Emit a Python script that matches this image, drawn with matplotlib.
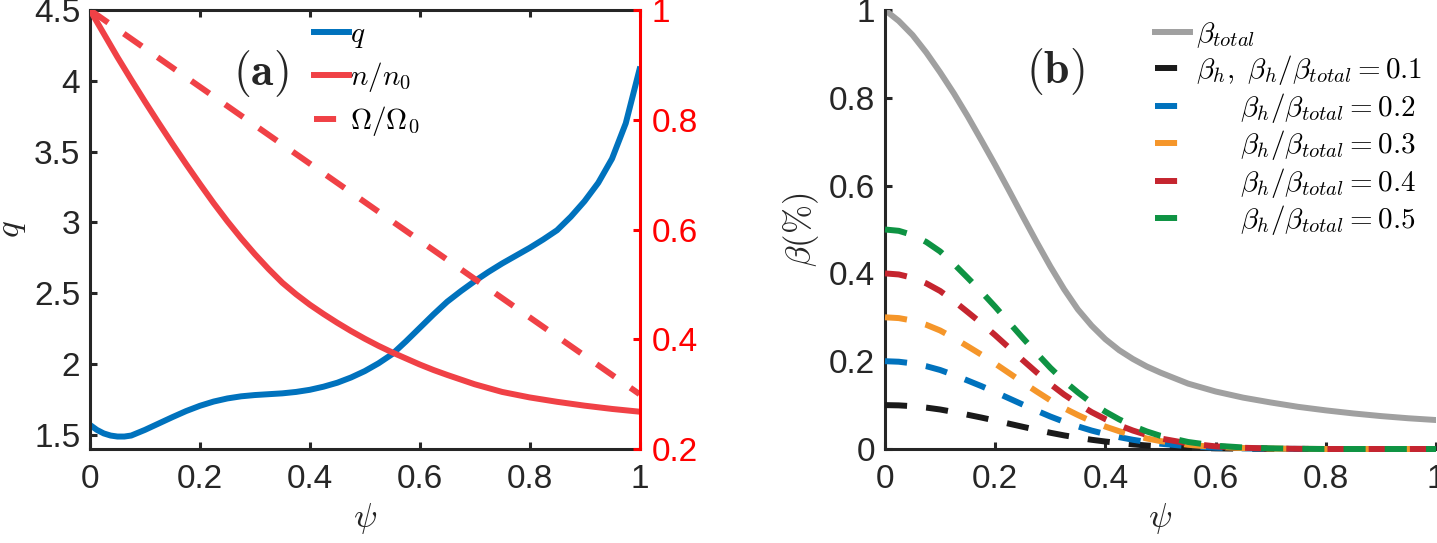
import numpy as np
import matplotlib
matplotlib.use("Agg")
import matplotlib.pyplot as plt

# ---- panel (a): q, n/n0, Omega/Omega0 vs psi ----
psi_q = [0, 0.0125, 0.025, 0.0375, 0.05, 0.0625, 0.075, 0.1, 0.125, 0.15, 0.175, 0.2, 0.225,
         0.25, 0.275, 0.3, 0.325, 0.35, 0.375, 0.4, 0.425, 0.45, 0.475, 0.5, 0.525, 0.55,
         0.575, 0.6, 0.625, 0.65, 0.675, 0.7, 0.725, 0.75, 0.775, 0.8, 0.825, 0.85, 0.875,
         0.9, 0.925, 0.95, 0.975, 1.0]
q_vals = [1.57, 1.535, 1.51, 1.495, 1.488, 1.488, 1.495, 1.535, 1.58, 1.625, 1.668, 1.705, 1.735,
          1.757, 1.772, 1.781, 1.787, 1.793, 1.803, 1.818, 1.84, 1.868, 1.905, 1.95, 2.005, 2.07,
          2.16, 2.255, 2.35, 2.44, 2.515, 2.585, 2.65, 2.71, 2.765, 2.82, 2.88, 2.945, 3.04,
          3.15, 3.28, 3.45, 3.70, 4.08]

psi_n = [0, 0.025, 0.05, 0.075, 0.1, 0.125, 0.15, 0.175, 0.2, 0.225, 0.25, 0.275, 0.3, 0.325,
         0.35, 0.375, 0.4, 0.425, 0.45, 0.475, 0.5, 0.525, 0.55, 0.575, 0.6, 0.625, 0.65, 0.7,
         0.75, 0.8, 0.85, 0.9, 0.95, 1.0]
n_vals = [1.0, 0.957, 0.914, 0.873, 0.833, 0.794, 0.756, 0.719, 0.683, 0.648, 0.615, 0.584,
          0.555, 0.528, 0.503, 0.482, 0.463, 0.446, 0.43, 0.415, 0.401, 0.388, 0.376, 0.365,
          0.354, 0.344, 0.335, 0.318, 0.304, 0.294, 0.286, 0.279, 0.273, 0.268]

psi_om = [0, 0.25, 0.5, 0.75, 1.0]
om_vals = [1.0, 0.825, 0.65, 0.475, 0.30]

# ---- panel (b): beta profiles ----
psi_tot = [0, 0.025, 0.05, 0.075, 0.1, 0.125, 0.15, 0.175, 0.2, 0.225, 0.25, 0.275, 0.3, 0.325,
           0.35, 0.375, 0.4, 0.425, 0.45, 0.475, 0.5, 0.55, 0.6, 0.65, 0.7, 0.75, 0.8, 0.85,
           0.9, 0.95, 1.0]
beta_total = [1.0, 0.975, 0.943, 0.903, 0.858, 0.81, 0.758, 0.703, 0.647, 0.589, 0.53, 0.472,
              0.416, 0.364, 0.318, 0.281, 0.250, 0.225, 0.205, 0.188, 0.174, 0.149, 0.131, 0.117,
              0.106, 0.096, 0.088, 0.081, 0.075, 0.070, 0.066]

psi_h = [0, 0.025, 0.05, 0.075, 0.1, 0.125, 0.15, 0.175, 0.2, 0.225, 0.25, 0.275, 0.3, 0.325,
         0.35, 0.375, 0.4, 0.425, 0.45, 0.475, 0.5, 0.55, 0.6, 0.65, 0.7, 0.75, 0.8, 0.9, 1.0]
beta_h_01 = [0.1, 0.0994, 0.0975, 0.0943, 0.09, 0.0843, 0.078, 0.0716, 0.0648, 0.0577, 0.0506,
             0.0437, 0.037, 0.031, 0.0258, 0.021, 0.017, 0.0135, 0.0105, 0.008, 0.006, 0.0032,
             0.0015, 0.0007, 0.0003, 0.0001, 0, 0, 0]
beta_h_02 = [0.2, 0.1988, 0.195, 0.1886, 0.18, 0.1686, 0.156, 0.1432, 0.1296, 0.1154, 0.1012,
             0.0874, 0.074, 0.062, 0.0516, 0.042, 0.034, 0.027, 0.021, 0.016, 0.012, 0.0064,
             0.003, 0.0014, 0.0006, 0.0002, 0, 0, 0]
beta_h_03 = [0.3, 0.2982, 0.2925, 0.2829, 0.27, 0.2529, 0.234, 0.2148, 0.1944, 0.1731, 0.1518,
             0.1311, 0.111, 0.093, 0.0774, 0.063, 0.051, 0.0405, 0.0315, 0.024, 0.018, 0.0096,
             0.0045, 0.0021, 0.0009, 0.0003, 0, 0, 0]
beta_h_04 = [0.4, 0.3976, 0.39, 0.3772, 0.36, 0.3372, 0.312, 0.2864, 0.2592, 0.2308, 0.2024,
             0.1748, 0.148, 0.124, 0.1032, 0.084, 0.068, 0.054, 0.042, 0.032, 0.024, 0.0128,
             0.006, 0.0028, 0.0012, 0.0004, 0, 0, 0]
beta_h_05 = [0.5, 0.497, 0.4875, 0.4715, 0.45, 0.4215, 0.39, 0.358, 0.324, 0.2885, 0.253,
             0.2185, 0.185, 0.155, 0.129, 0.105, 0.085, 0.0675, 0.0525, 0.04, 0.03, 0.016,
             0.0075, 0.0035, 0.0015, 0.0005, 0, 0, 0]
hot_series = [beta_h_01, beta_h_02, beta_h_03, beta_h_04, beta_h_05]
hot_colors = ["#1a1a1a", "#0072BD", "#F5962A", "#C5252F", "#0E9343"]
hot_labels = [r"$\beta_h,\ \beta_h/\beta_{total} = 0.1$",
              r"$\quad\;\;\,\beta_h/\beta_{total} = 0.2$",
              r"$\quad\;\;\,\beta_h/\beta_{total} = 0.3$",
              r"$\quad\;\;\,\beta_h/\beta_{total} = 0.4$",
              r"$\quad\;\;\,\beta_h/\beta_{total} = 0.5$"]

plt.rcParams["mathtext.fontset"] = "cm"
plt.rcParams["font.family"] = ["Liberation Sans", "DejaVu Sans"]

axcol = "#262626"
lw = 4.3
dash = (0, (3.7, 3.2))
tick_fs = 24

fig = plt.figure(figsize=(14.37, 5.43), dpi=100)

# left panel
ax1 = fig.add_axes([90 / 1437, 1 - 449 / 543, 549.5 / 1437, 439 / 543])
ax2 = ax1.twinx()

l_q, = ax1.plot(psi_q, q_vals, color="#0072BD", lw=lw, label=r"$q$")
l_n, = ax2.plot(psi_n, n_vals, color="#F04146", lw=lw, label=r"$n/n_0$")
l_o, = ax2.plot(psi_om, om_vals, color="#F04146", lw=lw, ls=dash, label=r"$\Omega/\Omega_0$")

ax1.set_xlim(0, 1)
ax1.set_ylim(1.4, 4.5)
ax2.set_ylim(0.2, 1)
ax1.set_xticks([0, 0.2, 0.4, 0.6, 0.8, 1])
ax1.set_xticklabels(["0", "0.2", "0.4", "0.6", "0.8", "1"])
ax1.set_yticks([1.5, 2, 2.5, 3, 3.5, 4, 4.5])
ax1.set_yticklabels(["1.5", "2", "2.5", "3", "3.5", "4", "4.5"])
ax2.set_yticks([0.2, 0.4, 0.6, 0.8, 1])
ax2.set_yticklabels(["0.2", "0.4", "0.6", "0.8", "1"])

for s in ax1.spines.values():
    s.set_linewidth(2.2)
    s.set_color(axcol)
ax1.spines["right"].set_visible(False)
for k in ["left", "top", "bottom"]:
    ax2.spines[k].set_visible(False)
ax2.spines["right"].set_color("red")
ax2.spines["right"].set_linewidth(2.2)

ax1.tick_params(axis="x", direction="in", top=True, length=5, width=2.2, color=axcol,
                labelsize=tick_fs, labelcolor=axcol, pad=11)
ax1.tick_params(axis="y", direction="in", right=False, length=5, width=2.2, color=axcol,
                labelsize=tick_fs, labelcolor=axcol, pad=7)
ax2.tick_params(axis="y", direction="in", length=5, width=2.2, colors="red",
                labelsize=tick_fs, pad=9)

ax1.set_xlabel(r"$\psi$", fontsize=25, color=axcol, labelpad=4)
ax1.set_ylabel(r"$q$", fontsize=25, color=axcol, labelpad=4)
ax1.text(0.31, 0.856, r"$\mathbf{(a)}$", transform=ax1.transAxes, fontsize=33,
         ha="center", va="center", color=axcol)

ax2.legend(handles=[l_q, l_n, l_o], loc="upper left", bbox_to_anchor=(314 / 1437, 1 - 20 / 543),
           bbox_transform=fig.transFigure, frameon=False, fontsize=21, handlelength=1.2,
           handletextpad=0.05, labelspacing=0.35, borderpad=0, borderaxespad=0)

# right panel
ax3 = fig.add_axes([885 / 1437, 1 - 449 / 543, 551 / 1437, 439 / 543])
l_tot, = ax3.plot(psi_tot, beta_total, color="#A0A0A0", lw=lw, label=r"$\beta_{total}$")
hot_lines = []
for vals, c, lab in zip(hot_series, hot_colors, hot_labels):
    ln, = ax3.plot(psi_h, vals, color=c, lw=lw, ls=dash, label=lab, zorder=3, clip_on=False)
    hot_lines.append(ln)

ax3.set_xlim(0, 1)
ax3.set_ylim(0, 1)
ax3.set_xticks([0, 0.2, 0.4, 0.6, 0.8, 1])
ax3.set_xticklabels(["0", "0.2", "0.4", "0.6", "0.8", "1"])
ax3.set_yticks([0, 0.2, 0.4, 0.6, 0.8, 1])
ax3.set_yticklabels(["0", "0.2", "0.4", "0.6", "0.8", "1"])
ax3.spines["top"].set_visible(False)
ax3.spines["right"].set_visible(False)
for k in ["left", "bottom"]:
    ax3.spines[k].set_linewidth(2.2)
    ax3.spines[k].set_color(axcol)
ax3.tick_params(axis="x", direction="in", length=5, width=2.2, color=axcol,
                labelsize=tick_fs, labelcolor=axcol, pad=11)
ax3.tick_params(axis="y", direction="in", length=5, width=2.2, color=axcol,
                labelsize=tick_fs, labelcolor=axcol, pad=7)
ax3.set_xlabel(r"$\psi$", fontsize=25, color=axcol, labelpad=4)
ax3.set_ylabel(r"$\beta(\%)$", fontsize=25, color=axcol, labelpad=6)
ax3.text(0.309, 0.859, r"$\mathbf{(b)}$", transform=ax3.transAxes, fontsize=33,
         ha="center", va="center", color=axcol)

ax3.legend(handles=[l_tot] + hot_lines, loc="upper left",
           bbox_to_anchor=(1155 / 1437, 1 - 20 / 543), bbox_transform=fig.transFigure,
           frameon=False, fontsize=21, handlelength=1.2, handletextpad=0.2,
           labelspacing=0.12, borderpad=0, borderaxespad=0)

fig.savefig("out.png", dpi=100)
